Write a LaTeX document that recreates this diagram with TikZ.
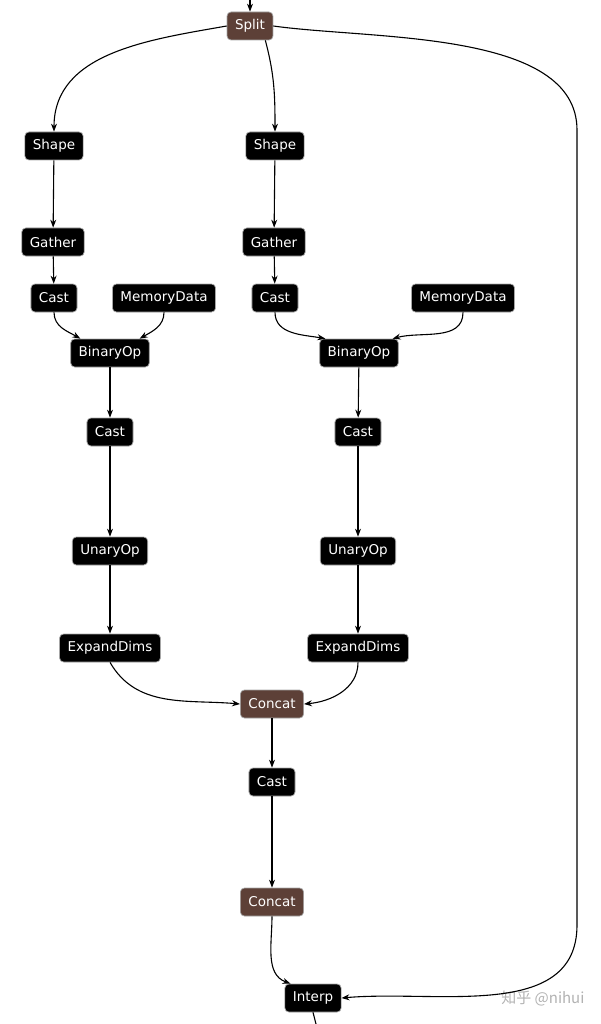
\documentclass[tikz,border=0pt]{standalone}
\usepackage{fontspec}
\setmainfont{DejaVu Sans}
\newfontfamily\cjk{Noto Sans CJK SC}
\usetikzlibrary{arrows.meta}
\definecolor{brn}{HTML}{5D4037}
\begin{document}
\begin{tikzpicture}[x=1pt,y=-1pt,
  op/.style={draw=gray!70,fill=black,text=white,rounded corners=4pt,font=\fontsize{13.5}{15}\selectfont,minimum height=28pt,inner xsep=8pt,line width=0.7pt},
  io/.style={op,fill=brn},
  e/.style={-{Stealth[length=8pt,width=6pt]},line width=1.1pt}]
\useasboundingbox (0,0) rectangle (600,1024);
\node[io] (split) at (250,26) {Split};
\node[op] (shL) at (54,146) {Shape};
\node[op] (shR) at (275,146) {Shape};
\node[op] (gaL) at (53,242) {Gather};
\node[op] (gaR) at (274,242) {Gather};
\node[op] (caL) at (54,298) {Cast};
\node[op] (mdL) at (164,298) {MemoryData};
\node[op] (caR) at (275,298) {Cast};
\node[op] (mdR) at (463,298) {MemoryData};
\node[op] (boL) at (110,353) {BinaryOp};
\node[op] (boR) at (359,353) {BinaryOp};
\node[op] (c2L) at (110,432) {Cast};
\node[op] (c2R) at (358,432) {Cast};
\node[op] (uoL) at (110,551) {UnaryOp};
\node[op] (uoR) at (358,551) {UnaryOp};
\node[op] (edL) at (110,648) {ExpandDims};
\node[op] (edR) at (358,648) {ExpandDims};
\node[io] (cc1) at (272,704) {Concat};
\node[op] (c3) at (272,782) {Cast};
\node[io] (cc2) at (272,902) {Concat};
\node[op] (interp) at (313,998) {Interp};
\coordinate (top) at (250,0);
\coordinate (bot) at (316,1024);
\coordinate (r1) at (577,130);
\coordinate (r2) at (577,925);
\node[font=\cjk\fontsize{15}{17}\selectfont,text=gray!60,anchor=east] (wm) at (588,998) {知乎 @nihui};
\draw[e] (top) -- (split);
\draw[e] (split.west) to[out=190,in=90] (shL.north);
\draw[e] (split.south east) ++(-8,0) to[out=-75,in=90] (shR.north);
\draw[e] (split.east) to[out=-8,in=90,looseness=0.8] (r1) -- (r2) to[out=-90,in=5] (interp.east);
\draw[e] (shL) -- (gaL); \draw[e] (shR) -- (gaR);
\draw[e] (gaL) -- (caL); \draw[e] (gaR) -- (caR);
\draw[e] (caL.south) to[out=-90,in=150] ([xshift=10pt]boL.north west);
\draw[e] (mdL.south) to[out=-90,in=30] ([xshift=-10pt]boL.north east);
\draw[e] (caR.south) to[out=-90,in=170] ([xshift=6pt]boR.north west);
\draw[e] (mdR.south) to[out=-90,in=15] ([xshift=-6pt]boR.north east);
\draw[e] (boL) -- (c2L); \draw[e] (boR) -- (c2R);
\draw[e] (c2L) -- (uoL); \draw[e] (c2R) -- (uoR);
\draw[e] (uoL) -- (edL); \draw[e] (uoR) -- (edR);
\draw[e] (edL.south) to[out=-60,in=175] (cc1.west);
\draw[e] (edR.south) to[out=-90,in=5] (cc1.east);
\draw[e] (cc1) -- (c3);
\draw[e] (c3) -- (cc2);
\draw[e] (cc2.south) to[out=-90,in=160] ([xshift=6pt]interp.north west);
\draw[line width=1.1pt] (interp.south) -- (bot);
\end{tikzpicture}
\end{document}
